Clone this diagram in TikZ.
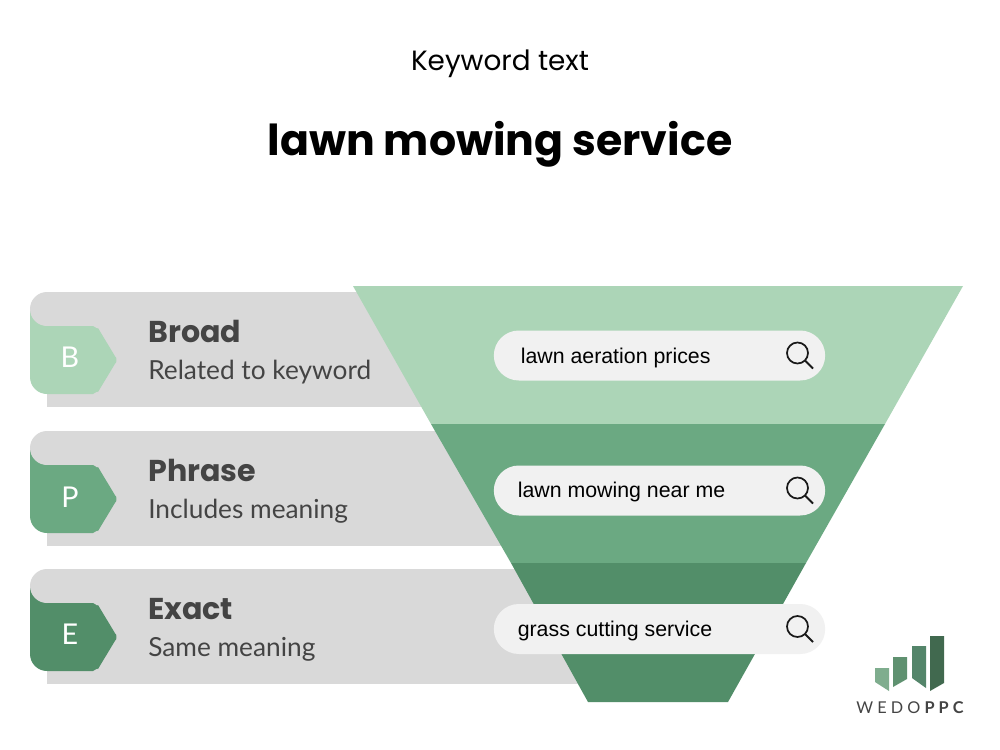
\documentclass[tikz,border=0pt]{standalone}
\usepackage{fontspec}
\setmainfont{Lato}
\newfontfamily\headf{Poppins}
\newfontfamily\searchf{Liberation Sans}
\usetikzlibrary{shapes.misc}
\definecolor{lg}{HTML}{ACD5B7}
\definecolor{mg}{HTML}{6BA982}
\definecolor{dg}{HTML}{528E69}
\definecolor{bar}{HTML}{D9D9D9}
\definecolor{pill}{HTML}{F1F1F1}
\definecolor{ink}{HTML}{444444}
\definecolor{la}{HTML}{7FAD8E}
\definecolor{lb}{HTML}{5F9170}
\definecolor{lc}{HTML}{54856A}
\definecolor{ld}{HTML}{41694F}
\tikzset{
 px/.style={x=0.75pt,y=-0.75pt},
 title/.style={font=\headf\bfseries\fontsize{32}{36}\selectfont,text=black,inner sep=0,anchor=base},
 sub/.style={font=\headf\fontsize{20.9}{24}\selectfont,text=black,inner sep=0,anchor=base},
 head/.style={font=\headf\bfseries\fontsize{22.6}{26}\selectfont,text=ink,anchor=base west,inner sep=0},
 desc/.style={font=\fontsize{19.7}{24}\selectfont,text=ink,anchor=base west,inner sep=0},
 letter/.style={font=\fontsize{21.5}{24}\selectfont,text=white,inner sep=0},
 pilltext/.style={font=\searchf\fontsize{16}{19}\selectfont,text=black,anchor=base west,inner sep=0},
 pillbox/.style={fill=pill,draw=none,rounded rectangle,minimum width=248.5pt,minimum height=37.5pt,inner sep=0},
 lens/.style={draw=black!90,line width=1.3pt},
 lenshandle/.style={draw=black!90,line width=1.5pt},
 logotext/.style={font=\fontsize{12.2}{14}\selectfont,text=ink,inner sep=0,anchor=base},
}
\begin{document}
\begin{tikzpicture}[px]
\useasboundingbox (0,0) rectangle (1000,750);
\fill[white] (0,0) rectangle (1000,750);
\node[sub] (kt) at (500,70) {Keyword text};
\node[title] (lm) at (500,155) {lawn mowing service};
% gray bars with tabs
\foreach \y/\r/\c in {292/440/lg,431/520/mg,569/590/dg}{
 \fill[bar] (47,\y) rectangle (\r,\y+115);
 \fill[\c] (30,\y+17) -- (47,\y+17) -- (47,\y+34) -- (93,\y+34)
   to[out=0,in=-120] (98,\y+36) -- (115.5,\y+65) to[out=60,in=-60] (115.5,\y+71) -- (98,\y+100)
   to[out=120,in=0] (93,\y+102) -- (47,\y+102) arc[start angle=90,delta angle=90,radius=17] -- cycle;
 \fill[bar] (47,\y+17) circle[radius=17];
}
% funnel
\fill[lg] (353,286) -- (963,286) -- (885,424) -- (431,424) -- cycle;
\fill[mg] (431,424) -- (885,424) -- (806,563) -- (511,563) -- cycle;
\fill[dg] (511,563) -- (806,563) -- (728,702) -- (588,702) -- cycle;
% letters and labels
\node[letter] (tabb) at (70,357) {B};
\node[letter] (tabp) at (70,497) {P};
\node[letter] (tabe) at (70,634.5) {E};
\node[head] (hb) at (148,342) {Broad};
\node[desc] (db) at (148,379.5) {Related to keyword};
\node[head] (hp) at (148,481) {Phrase};
\node[desc] (dp) at (148,518.5) {Includes meaning};
\node[head] (he) at (148,619) {Exact};
\node[desc] (de) at (148,656.5) {Same meaning};
% pills
\foreach \n/\y in {a/355.5,b/490.5,c/629}{
 \node[pillbox] (p\n) at (659.5,\y) {};
 \draw[lens] (797.5,\y-2.5) circle[radius=10.5];
 \draw[lenshandle] (805,\y+5) -- (813,\y+13);
}
\node[pilltext] (ta) at (520.5,363.5) {lawn aeration prices};
\node[pilltext] (tb) at (517.5,497.5) {lawn mowing near me};
\node[pilltext] (tc) at (517.5,636.5) {grass cutting service};
% logo
\fill[la] (875,668) -- (889,668) -- (889,691) -- (875,682) -- cycle;
\fill[lb] (893,657) -- (907,657) -- (907,679) -- (893,687) -- cycle;
\fill[lc] (912,646) -- (926,646) -- (926,688) -- (912,678) -- cycle;
\fill[ld] (930,636) -- (944,636) -- (944,683) -- (930,691) -- cycle;
\node[logotext] (brand) at (910,713) {W\hspace{3.1pt}E\hspace{3.1pt}D\hspace{3.1pt}O\hspace{3.1pt}{\bfseries P\hspace{3.1pt}P\hspace{3.1pt}C}};
\end{tikzpicture}
\end{document}
